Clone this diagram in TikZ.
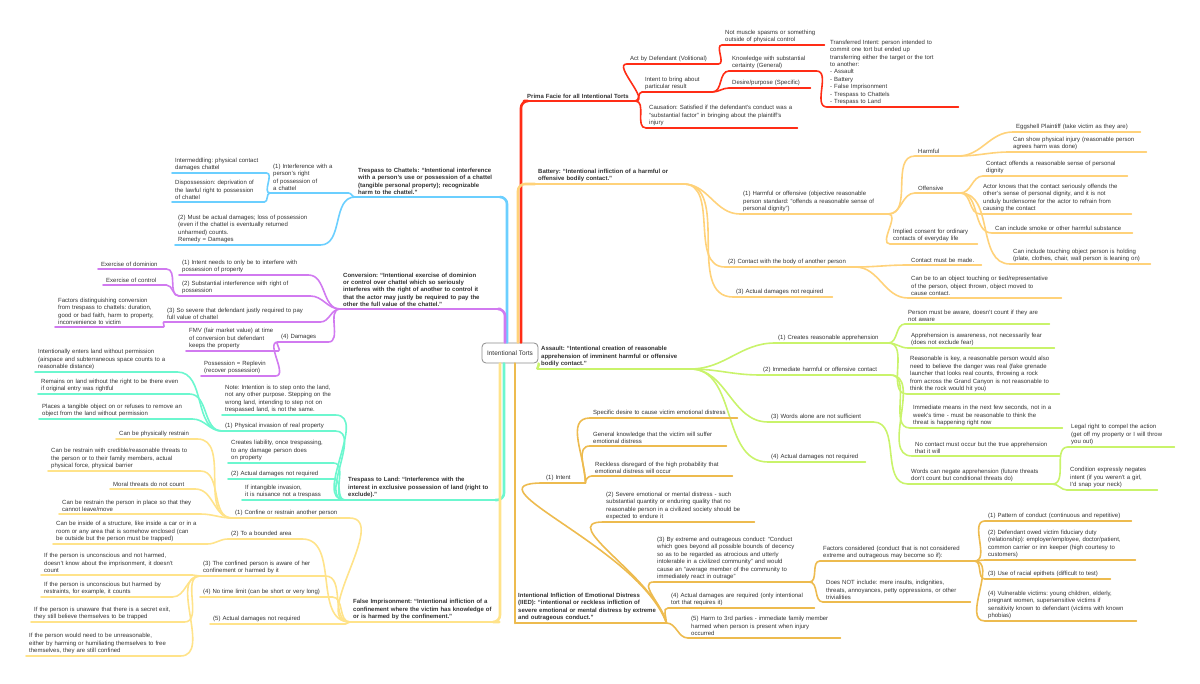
\documentclass[tikz,border=0pt]{standalone}
\usepackage{fontspec}
\setmainfont{Liberation Sans}
\frenchspacing
\definecolor{cRed}{HTML}{FF2D16}
\definecolor{cBat}{HTML}{FFD27A}
\definecolor{cAsl}{HTML}{C9F36B}
\definecolor{cIie}{HTML}{EDBB4F}
\definecolor{cBlu}{HTML}{6BCFFF}
\definecolor{cPur}{HTML}{D17AF0}
\definecolor{cTea}{HTML}{6CF7CF}
\definecolor{cFim}{HTML}{FFE38A}
\definecolor{cTxt}{HTML}{333333}
\tikzset{
  lf/.style={anchor=south west, inner xsep=3pt, inner ysep=2pt, align=left, text=cTxt,
    font=\fontsize{6}{7.4}\selectfont},
  ul/.style={line width=1.6pt, line cap=round},
  trunk/.style={line width=2.6pt, line cap=round, rounded corners=7pt},
  rootbox/.style={draw=black!45, line width=0.8pt, rounded corners=4pt, fill=white,
    minimum width=56pt, minimum height=20pt, text=cTxt, font=\fontsize{6.5}{8}\selectfont}
}
\newcommand\lf[6]{%
  \pgfmathsetmacro\tw{#4-#3-6}%
  \node[lf, text width=\tw pt] (#1) at (#3,-#5) {#6};
  \draw[#2, ul] (#1.south west) -- (#1.south east);}
\newcommand\rc[3]{\draw[#1,ul] (#2.south east) to[out=0,in=180] (#3.south west);}
\newcommand\lc[3]{\draw[#1,ul] (#2.south west) to[out=180,in=0] (#3.south east);}
\begin{document}
\begin{tikzpicture}[x=1pt,y=1pt]
\useasboundingbox (0,0) rectangle (1200,-684);
\node[rootbox] (root) at (510,-353) {Intentional Torts};

% ---------- Prima facie (red)
\lf{pf}{cRed}{524}{635}{101}{\bfseries Prima Facie for all Intentional Torts}
\lf{act}{cRed}{627}{718}{64}{Act by Defendant (Volitional)}
\lf{int}{cRed}{642}{712}{92}{Intent to bring about\\particular result}
\lf{cau}{cRed}{646}{797}{128}{Causation: Satisfied if the defendant’s conduct was a\\“substantial factor” in bringing about the plaintiff’s\\injury}
\lf{mus}{cRed}{722}{824}{45}{Not muscle spasms or something\\outside of physical control}
\lf{kno}{cRed}{729}{816}{71}{Knowledge with substantial\\certainty (General)}
\lf{des}{cRed}{729}{810}{88}{Desire/purpose (Specific)}
\lf{tra}{cRed}{827}{958}{107}{Transferred Intent: person intended to\\commit one tort but ended up\\transferring either the target or the tort\\to another:\\- Assault\\- Battery\\- False Imprisonment\\- Trespass to Chattels\\- Trespass to Land}
\draw[cRed,trunk] ([xshift=11pt]root.north) |- (pf.south west);
\rc{cRed}{pf}{act}\rc{cRed}{pf}{int}\rc{cRed}{pf}{cau}
\rc{cRed}{act}{mus}\rc{cRed}{int}{kno}\rc{cRed}{int}{des}\rc{cRed}{kno}{tra}

% ---------- Battery
\lf{bat}{cBat}{535}{683}{184}{\bfseries Battery: “Intentional infliction of a harmful or\\offensive bodily contact.”}
\lf{b1}{cBat}{740}{888}{214}{(1) Harmful or offensive (objective reasonable\\person standard: “offends a reasonable sense of\\personal dignity”)}
\lf{b2}{cBat}{725}{855}{267}{(2) Contact with the body of another person}
\lf{b3}{cBat}{733}{832}{297}{(3) Actual damages not required}
\lf{harm}{cBat}{915}{958}{156}{Harmful}
\lf{off}{cBat}{915}{960}{193}{Offensive}
\lf{imp}{cBat}{890}{977}{244}{Implied consent for ordinary\\contacts of everyday life}
\lf{egg}{cBat}{1013}{1140}{132}{Eggshell Plaintiff (take victim as they are)}
\lf{phy}{cBat}{1010}{1146}{152}{Can show physical injury (reasonable person\\agrees harm was done)}
\lf{cof}{cBat}{983}{1127}{176}{Contact offends a reasonable sense of personal\\dignity}
\lf{akn}{cBat}{980}{1131}{214}{Actor knows that the contact seriously offends the\\other’s sense of personal dignity, and it is not\\unduly burdensome for the actor to refrain from\\causing the contact}
\lf{smk}{cBat}{992}{1132}{233}{Can include smoke or other harmful substance}
\lf{tch}{cBat}{1010}{1150}{264}{Can include touching object person is holding\\(plate, clothes, chair, wall person is leaning on)}
\lf{mad}{cBat}{908}{981}{265}{Contact must be made.}
\lf{obj}{cBat}{908}{1061}{298}{Can be to an object touching or tied/representative\\of the person, object thrown, object moved to\\cause contact.}
\draw[cBat,trunk] ([xshift=8pt]root.north) |- (bat.south west);
\rc{cBat}{bat}{b1}\rc{cBat}{bat}{b2}\rc{cBat}{bat}{b3}
\rc{cBat}{b1}{harm}\rc{cBat}{b1}{off}\rc{cBat}{b1}{imp}
\rc{cBat}{harm}{egg}\rc{cBat}{harm}{phy}
\rc{cBat}{off}{cof}\rc{cBat}{off}{akn}\rc{cBat}{off}{smk}\rc{cBat}{off}{tch}
\rc{cBat}{b2}{mad}\rc{cBat}{b2}{obj}

% ---------- Assault
\lf{asl}{cAsl}{538}{690}{369}{\bfseries Assault: “Intentional creation of reasonable\\apprehension of imminent harmful or offensive\\bodily contact.”}
\lf{a1}{cAsl}{775}{888}{343}{(1) Creates reasonable apprehension}
\lf{a2}{cAsl}{760}{890}{375}{(2) Immediate harmful or offensive contact}
\lf{a3}{cAsl}{768}{873}{422}{(3) Words alone are not sufficient}
\lf{a4}{cAsl}{768}{865}{462}{(4) Actual damages not required}
\lf{aw}{cAsl}{905}{1049}{324}{Person must be aware, doesn’t count if they are\\not aware}
\lf{ap}{cAsl}{908}{1054}{348}{Apprehension is awareness, not necessarily fear\\(does not exclude fear)}
\lf{rk}{cAsl}{907}{1059}{394}{Reasonable is key, a reasonable person would also\\need to believe the danger was real (fake grenade\\launcher that looks real counts, throwing a rock\\from across the Grand Canyon is not reasonable to\\think the rock would hit you)}
\lf{imm}{cAsl}{910}{1062}{428}{Immediate means in the next few seconds, not in a\\week’s time - must be reasonable to think the\\threat is happening right now}
\lf{nc}{cAsl}{912}{1060}{456}{No contact must occur but the true apprehension\\that it will}
\lf{wn}{cAsl}{908}{1052}{484}{Words can negate apprehension (future threats\\don’t count but conditional threats do)}
\lf{lr}{cAsl}{1068}{1174}{447}{Legal right to compel the action\\(get off my property or I will throw\\you out)}
\lf{ce}{cAsl}{1067}{1157}{490}{Condition expressly negates\\intent (if you weren’t a girl,\\I’d snap your neck)}
\draw[cAsl,ul,line width=2.4pt] (root.south east) to[out=-30,in=180] (asl.south west);
\rc{cAsl}{asl}{a1}\rc{cAsl}{asl}{a2}\rc{cAsl}{asl}{a3}\rc{cAsl}{asl}{a4}
\rc{cAsl}{a1}{aw}\rc{cAsl}{a1}{ap}\rc{cAsl}{a1}{rk}
\rc{cAsl}{a2}{imm}\rc{cAsl}{a2}{nc}\rc{cAsl}{a3}{wn}
\rc{cAsl}{wn}{lr}\rc{cAsl}{wn}{ce}

% ---------- IIED
\lf{iied}{cIie}{515}{666}{623}{\bfseries Intentional Infliction of Emotional Distress\\(IIED): “intentional or reckless infliction of\\severe emotional or mental distress by extreme\\and outrageous conduct.”}
\lf{i1}{cIie}{543}{585}{483}{(1) Intent}
\lf{sd}{cIie}{590}{737}{418}{Specific desire to cause victim emotional distress}
\lf{gk}{cIie}{590}{726}{446}{General knowledge that the victim will suffer\\emotional distress}
\lf{rd}{cIie}{592}{732}{476}{Reckless disregard of the high probability that\\emotional distress will occur}
\lf{i2}{cIie}{603}{754}{522}{(2) Severe emotional or mental distress - such\\substantial quantity or enduring quality that no\\reasonable person in a civilized society should be\\expected to endure it}
\lf{i3}{cIie}{654}{809}{582}{(3) By extreme and outrageous conduct: “Conduct\\which goes beyond all possible bounds of decency\\so as to be regarded as atrocious and utterly\\intolerable in a civilized community” and would\\cause an “average member of the community to\\immediately react in outrage”}
\lf{i4}{cIie}{668}{814}{608}{(4) Actual damages are required (only intentional\\tort that requires it)}
\lf{i5}{cIie}{688}{840}{638}{(5) Harm to 3rd parties - immediate family member\\harmed when person is present when injury\\occurred}
\lf{fac}{cIie}{820}{974}{561}{Factors considered (conduct that is not considered\\extreme and outrageous may become so if):}
\lf{dni}{cIie}{823}{970}{602}{Does NOT include: mere insults, indignities,\\threats, annoyances, petty oppressions, or other\\trivialities}
\lf{f1}{cIie}{985}{1131}{521}{(1) Pattern of conduct (continuous and repetitive)}
\lf{f2}{cIie}{985}{1135}{560}{(2) Defendant owed victim fiduciary duty\\(relationship): employer/employee, doctor/patient,\\common carrier or inn keeper (high courtesy to\\customers)}
\lf{f3}{cIie}{985}{1110}{579}{(3) Use of racial epithets (difficult to test)}
\lf{f4}{cIie}{985}{1136}{621}{(4) Vulnerable victims: young children, elderly,\\pregnant women, supersensitive victims if\\sensitivity known to defendant (victims with known\\phobias)}
\draw[cIie,trunk] ([xshift=5pt]root.south) -- (iied.south west);
\draw[cIie,ul] (iied.south east) to[out=110,in=180,looseness=1.1] (i1.south west);
\draw[cIie,ul] (iied.south east) to[out=105,in=180] (i2.south west);
\draw[cIie,ul] (iied.south east) to[out=100,in=180] (i3.south west);
\draw[cIie,ul] (iied.south east) to[out=90,in=180] (i4.south west);
\rc{cIie}{iied}{i5}
\draw[cIie,ul] (i1.south east) to[out=90,in=180] (sd.south west);
\draw[cIie,ul] (i1.south east) to[out=90,in=180] (gk.south west);
\draw[cIie,ul] (i1.south east) to[out=90,in=180] (rd.south west);
\rc{cIie}{i3}{fac}\rc{cIie}{i3}{dni}
\rc{cIie}{fac}{f1}\rc{cIie}{fac}{f2}\rc{cIie}{fac}{f3}\rc{cIie}{fac}{f4}

% ---------- Trespass to Chattels
\lf{ch}{cBlu}{355}{500}{197}{\bfseries Trespass to Chattels: “Intentional interference\\with a person’s use or possession of a chattel\\(tangible personal property); recognizable\\harm to the chattel.”}
\lf{c1}{cBlu}{270}{348}{193}{(1) Interference with a\\person’s right\\of possession of\\a chattel}
\lf{im1}{cBlu}{172}{266}{173}{Intermeddling: physical contact\\damages chattel}
\lf{dis}{cBlu}{172}{264}{202}{Dispossession: deprivation of\\the lawful right to possession\\of chattel}
\lf{c2}{cBlu}{175}{320}{245}{(2) Must be actual damages; loss of possession\\(even if the chattel is eventually returned\\unharmed) counts.\\Remedy = Damages}
\draw[cBlu,trunk] ([xshift=-3pt]root.north) |- (ch.south east);
\lc{cBlu}{ch}{c1}\lc{cBlu}{ch}{c2}\lc{cBlu}{c1}{im1}\lc{cBlu}{c1}{dis}

% ---------- Conversion
\lf{cv}{cPur}{340}{500}{309}{\bfseries Conversion: “Intentional exercise of dominion\\or control over chattel which so seriously\\interferes with the right of another to control it\\that the actor may justly be required to pay the\\other the full value of the chattel.”}
\lf{v1}{cPur}{179}{308}{275}{(1) Intent needs to only be to interfere with\\possession of property}
\lf{v2}{cPur}{179}{310}{296}{(2) Substantial interference with right of\\possession}
\lf{v3}{cPur}{164}{320}{322}{(3) So severe that defendant justly required to pay\\full value of chattel}
\lf{v4}{cPur}{278}{328}{342}{(4) Damages}
\lf{fmv}{cPur}{186}{278}{351}{FMV (fair market value) at time\\of conversion but defendant\\keeps the property}
\lf{rep}{cPur}{201}{275}{376}{Possession = Replevin\\(recover possession)}
\lf{dom}{cPur}{98}{166}{269}{Exercise of dominion}
\lf{ctl}{cPur}{103}{166}{285}{Exercise of control}
\lf{fd}{cPur}{55}{163}{327}{Factors distinguishing conversion\\from trespass to chattels: duration,\\good or bad faith, harm to property,\\inconvenience to victim}
\draw[cPur,trunk] ([xshift=-5pt]root.north) |- (cv.south east);
\lc{cPur}{cv}{v1}\lc{cPur}{cv}{v2}\lc{cPur}{cv}{v3}\lc{cPur}{cv}{v4}
\lc{cPur}{v2}{dom}\lc{cPur}{v2}{ctl}\lc{cPur}{v3}{fd}
\lc{cPur}{v4}{fmv}\lc{cPur}{v4}{rep}

% ---------- Trespass to Land
\lf{ld}{cTea}{345}{495}{500}{\bfseries Trespass to Land: “Interference with the\\interest in exclusive possession of land (right to\\exclude).”}
\lf{nt}{cTea}{222}{335}{415}{Note: Intention is to step onto the land,\\not any other purpose. Stepping on the\\wrong land, intending to step not on\\trespassed land, is not the same.}
\lf{l1}{cTea}{222}{335}{431}{(1) Physical invasion of real property}
\lf{cl}{cTea}{228}{333}{463}{Creates liability, once trespassing,\\to any damage person does\\on property}
\lf{l2}{cTea}{228}{333}{479}{(2) Actual damages not required}
\lf{ii}{cTea}{242}{340}{500}{If intangible invasion,\\it is nuisance not a trespass}
\lf{ie}{cTea}{35}{177}{372}{Intentionally enters land without permission\\(airspace and subterraneous space counts to a\\reasonable distance)}
\lf{rm}{cTea}{38}{189}{394}{Remains on land without the right to be there even\\if original entry was rightful}
\lf{pl}{cTea}{39}{192}{419}{Places a tangible object on or refuses to remove an\\object from the land without permission}
\draw[cTea,trunk] ([xshift=-6pt]root.south) |- (ld.south east);
\lc{cTea}{ld}{nt}\lc{cTea}{ld}{l1}\lc{cTea}{ld}{cl}\lc{cTea}{ld}{l2}\lc{cTea}{ld}{ii}
\lc{cTea}{l1}{ie}\lc{cTea}{l1}{rm}\lc{cTea}{l1}{pl}

% ---------- False Imprisonment
\lf{fi}{cFim}{350}{499}{622}{\bfseries False Imprisonment: “Intentional infliction of a\\confinement where the victim has knowledge of\\or is harmed by the confinement.”}
\lf{p1}{cFim}{232}{349}{518}{(1) Confine or restrain another person}
\lf{p2}{cFim}{228}{302}{539}{(2) To a bounded area}
\lf{p3}{cFim}{200}{325}{576}{(3) The confined person is aware of her\\confinement or harmed by it}
\lf{p4}{cFim}{200}{332}{597}{(4) No time limit (can be short or very long)}
\lf{p5}{cFim}{210}{345}{624}{(5) Actual damages not required}
\lf{q1}{cFim}{116}{197}{439}{Can be physically restrain}
\lf{q2}{cFim}{48}{200}{471}{Can be restrain with credible/reasonable threats to\\the person or to their family members, actual\\physical force, physical barrier}
\lf{q3}{cFim}{110}{195}{489}{Moral threats do not count}
\lf{q4}{cFim}{59}{200}{514}{Can be restrain the person in place so that they\\cannot leave/move}
\lf{q5}{cFim}{53}{207}{544}{Can be inside of a structure, like inside a car or in a\\room or any area that is somehow enclosed (can\\be outside but the person must be trapped)}
\lf{r1}{cFim}{41}{192}{575}{If the person is unconscious and not harmed,\\doesn’t know about the imprisonment, it doesn’t\\count}
\lf{r2}{cFim}{41}{172}{597}{If the person is unconscious but harmed by\\restraints, for example, it counts}
\lf{r3}{cFim}{31}{184}{622}{If the person is unaware that there is a secret exit,\\they still believe themselves to be trapped}
\lf{r4}{cFim}{26}{180}{656}{If the person would need to be unreasonable,\\either by harming or humiliating themselves to free\\themselves, they are still confined}
\draw[cFim,trunk] ([xshift=-10pt]root.south) |- (fi.south east);
\lc{cFim}{fi}{p1}\lc{cFim}{fi}{p2}\lc{cFim}{fi}{p3}\lc{cFim}{fi}{p4}\lc{cFim}{fi}{p5}
\lc{cFim}{p1}{q1}\lc{cFim}{p1}{q2}\lc{cFim}{p1}{q3}\lc{cFim}{p1}{q4}
\lc{cFim}{p2}{q5}
\lc{cFim}{p3}{r1}\lc{cFim}{p3}{r2}\lc{cFim}{p3}{r3}\lc{cFim}{p3}{r4}
\end{tikzpicture}
\end{document}
